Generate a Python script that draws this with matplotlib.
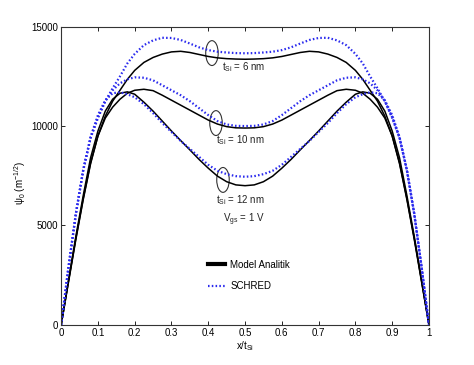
import matplotlib
matplotlib.use('Agg')
import matplotlib.pyplot as plt
from matplotlib.patches import Ellipse
from matplotlib.lines import Line2D

plt.rcParams['font.family'] = ['Liberation Sans', 'DejaVu Sans']

x = [0, 0.02, 0.04, 0.06, 0.08, 0.10, 0.12, 0.14, 0.16, 0.18, 0.20, 0.225, 0.25, 0.275,
     0.30, 0.325, 0.35, 0.375, 0.40, 0.425, 0.45, 0.475, 0.50,
     0.525, 0.55, 0.575, 0.60, 0.625, 0.65, 0.675, 0.70, 0.725, 0.75, 0.775, 0.80,
     0.82, 0.84, 0.86, 0.88, 0.90, 0.92, 0.94, 0.96, 0.98, 1.0]

# model analitik (black)
model_6 = [0, 2150, 4300, 6300, 8100, 9500, 10500, 11250, 11800, 12350, 12800, 13200, 13450, 13620,
           13730, 13760, 13700, 13600, 13500, 13430, 13390, 13370, 13360,
           13370, 13390, 13430, 13500, 13600, 13700, 13760, 13730, 13620, 13450, 13200, 12800,
           12350, 11800, 11250, 10500, 9500, 8100, 6300, 4300, 2150, 0]
model_10 = [0, 2200, 4350, 6350, 8150, 9500, 10400, 10950, 11350, 11650, 11800, 11850, 11780, 11550,
            11300, 11050, 10800, 10550, 10300, 10100, 9970, 9910, 9900,
            9910, 9970, 10100, 10300, 10550, 10800, 11050, 11300, 11550, 11780, 11850, 11800,
            11650, 11350, 10950, 10400, 9500, 8150, 6350, 4350, 2200, 0]
model_12 = [0, 2250, 4450, 6500, 8400, 9750, 10750, 11350, 11650, 11720, 11600, 11200, 10750, 10250,
            9750, 9270, 8800, 8320, 7880, 7480, 7200, 7040, 7000,
            7040, 7200, 7480, 7880, 8320, 8800, 9270, 9750, 10250, 10750, 11200, 11600,
            11720, 11650, 11350, 10750, 9750, 8400, 6500, 4450, 2250, 0]

# SCHRED (blue dotted)
schred_6 = [0, 2900, 5600, 7800, 9400, 10400, 11250, 11900, 12500, 13150, 13630, 14070, 14310, 14440,
            14430, 14330, 14150, 13960, 13820, 13740, 13700, 13670, 13660,
            13670, 13700, 13740, 13820, 13960, 14150, 14330, 14430, 14440, 14310, 14070, 13630,
            13150, 12500, 11900, 11250, 10400, 9400, 7800, 5600, 2900, 0]
schred_10 = [0, 2900, 5550, 7750, 9400, 10450, 11250, 11800, 12150, 12350, 12450, 12430, 12300, 12050,
             11800, 11550, 11250, 10900, 10550, 10250, 10080, 10010, 10000,
             10010, 10080, 10250, 10550, 10900, 11250, 11550, 11800, 12050, 12300, 12430, 12450,
             12350, 12150, 11800, 11250, 10450, 9400, 7750, 5550, 2900, 0]
schred_12 = [0, 2900, 5600, 7800, 9450, 10550, 11300, 11650, 11700, 11600, 11450, 11100, 10650, 10150,
             9700, 9250, 8850, 8450, 8050, 7750, 7580, 7480, 7450,
             7480, 7580, 7750, 8050, 8450, 8850, 9250, 9700, 10150, 10650, 11100, 11450,
             11600, 11700, 11650, 11300, 10550, 9450, 7800, 5600, 2900, 0]

blue = '#2a2aee'
dots = (0, (0.7, 1.0))

fig = plt.figure(figsize=(4.74, 3.65), dpi=100)
ax = fig.add_axes([0.129, 0.11, 0.776, 0.817])

for m in [model_6, model_10, model_12]:
    ax.plot(x, m, color='black', lw=1.1)
for s in [schred_6, schred_10, schred_12]:
    ax.plot(x, s, color=blue, lw=1.6, linestyle=dots)

# ellipses marking each pair
for cx, cy in [(0.41, 13670), (0.421, 10150), (0.44, 7290)]:
    ax.add_patch(Ellipse((cx, cy), 0.034, 1250, fill=False, edgecolor='#333333', lw=0.8))

fs = 7
ax.text(0.437, 12960, r'$\mathregular{t_{Si}}$ = 6 nm', fontsize=fs, va='center', color='#222222')
ax.text(0.42, 9300, r'$\mathregular{t_{Si}}$ = 10 nm', fontsize=fs, va='center', color='#222222')
ax.text(0.42, 6280, r'$\mathregular{t_{Si}}$ = 12 nm', fontsize=fs, va='center', color='#222222')
ax.text(0.44, 5280, r'$\mathregular{V_{gs}}$ = 1 V', fontsize=fs, va='center', color='#222222')

handles = [Line2D([], [], color='black', lw=3),
           Line2D([], [], color=blue, lw=1.6, linestyle=dots)]
ax.legend(handles, ['Model Analitik', 'SCHRED'], loc='center left', bbox_to_anchor=(0.375, 0.166),
          frameon=False, fontsize=fs, handlelength=1.8, handletextpad=0.5, labelspacing=1.2)

ax.set_xlim(0, 1)
ax.set_ylim(0, 15000)
ax.set_xticks([i / 10 for i in range(11)])
ax.set_xticklabels(['0', '0.1', '0.2', '0.3', '0.4', '0.5', '0.6', '0.7', '0.8', '0.9', '1'])
ax.set_yticks([0, 5000, 10000, 15000])
ax.tick_params(direction='in', top=True, right=True, labelsize=fs, length=3, width=0.6, pad=2)
for sp in ax.spines.values():
    sp.set_linewidth(0.8)
    sp.set_color('#333333')

ax.set_xlabel(r'x/$\mathregular{t_{Si}}$', fontsize=fs, labelpad=1)
ax.set_ylabel(r'$\mathregular{\psi_0}$ ($\mathregular{m^{-1/2}}$)', fontsize=fs)
ax.yaxis.set_label_coords(-0.09, 0.476)

fig.savefig('out.png', dpi=100)
